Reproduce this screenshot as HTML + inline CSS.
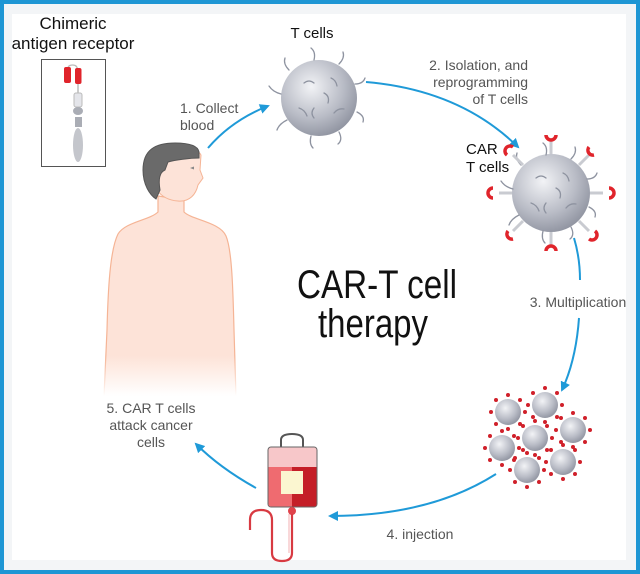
<!DOCTYPE html>
<html><head><meta charset="utf-8"><style>
html,body{margin:0;padding:0;background:#fff}
svg{display:block}
text{font-family:"Liberation Sans Narrow","Liberation Sans",sans-serif}
</style></head><body>
<svg width="640" height="574" viewBox="0 0 640 574" xmlns="http://www.w3.org/2000/svg">
<defs>
<radialGradient id="sph" cx="0.4" cy="0.35" r="0.7">
<stop offset="0" stop-color="#f2f3f6"/><stop offset="0.6" stop-color="#b9bcc6"/><stop offset="1" stop-color="#8d919e"/>
</radialGradient>
<linearGradient id="fade" x1="0" y1="0" x2="0" y2="1">
<stop offset="0.8" stop-color="#fde3d8"/><stop offset="1" stop-color="#fde3d8" stop-opacity="0"/>
</linearGradient>
<linearGradient id="fadeS" x1="0" y1="0" x2="0" y2="1">
<stop offset="0.8" stop-color="#f5b495"/><stop offset="1" stop-color="#f5b495" stop-opacity="0"/>
</linearGradient>
<marker id="ah" viewBox="0 0 10 10" refX="8" refY="5" markerWidth="5" markerHeight="5" orient="auto">
<path d="M0,0 L10,5 L0,10 z" fill="#1f9ad8"/></marker>
<g id="spikes" stroke="#8e93a0" stroke-width="1.3" fill="none" stroke-linecap="round">
<path d="M-30,-28 q-6,-6 -4,-12"/><path d="M-5,-38 q2,-8 -3,-12"/><path d="M20,-34 q6,-6 4,-12"/>
<path d="M36,-14 q8,0 10,-6"/><path d="M38,14 q8,4 6,10"/><path d="M20,34 q4,8 -1,12"/>
<path d="M-8,38 q-2,8 2,12"/><path d="M-32,22 q-8,4 -10,10"/><path d="M-38,-4 q-8,-2 -12,-8"/>
<path d="M-15,-15 q5,-4 10,0"/><path d="M5,-5 q6,3 4,10"/><path d="M-20,10 q6,2 8,8"/>
<path d="M12,-20 q5,2 6,8"/><path d="M15,15 q4,-5 10,-4"/><path d="M-5,20 q-4,-5 0,-10"/>
</g>
<g id="mini">
<circle r="13" fill="url(#sph)"/>
<g fill="#d0202a"><circle cx="0" cy="-17" r="2"/><circle cx="12" cy="-12" r="2"/><circle cx="17" cy="0" r="2"/><circle cx="12" cy="12" r="2"/><circle cx="0" cy="17" r="2"/><circle cx="-12" cy="12" r="2"/><circle cx="-17" cy="0" r="2"/><circle cx="-12" cy="-12" r="2"/></g>
</g>
</defs>
<rect x="0" y="0" width="640" height="574" fill="#1e96d4"/>
<rect x="4" y="4" width="632" height="566" fill="#f3f5f7"/>
<rect x="12" y="14" width="614" height="546" fill="#fff"/>

<!-- CAR box -->
<text x="73" y="29" font-size="17" text-anchor="middle" fill="#111">Chimeric</text>
<text x="73" y="49" font-size="17" text-anchor="middle" fill="#111">antigen receptor</text>
<rect x="41.5" y="59.5" width="64" height="107" fill="#fff" stroke="#555" stroke-width="1"/>
<path d="M67.5,70 q0,-5 5,-5 q5,0 5,5" fill="none" stroke="#bbb" stroke-width="1.2"/>
<path d="M78,83 L78,93" stroke="#bbb" stroke-width="1.5"/>
<rect x="64" y="67" width="7" height="16" rx="2" fill="#e0242b"/>
<rect x="75" y="68" width="6.5" height="16" rx="2" fill="#e0242b"/>
<rect x="74" y="93" width="8" height="14" rx="2" fill="#e4e5ea" stroke="#bbb"/>
<ellipse cx="78" cy="111" rx="5" ry="4" fill="#aaadb5"/>
<rect x="75" y="117" width="7" height="10" fill="#aaadb5"/>
<ellipse cx="78" cy="145" rx="5" ry="17" fill="#c4c6cc"/>

<!-- person -->
<path d="M158,196 L158,212 C150,220 125,222 118,234 C110,250 108,290 107,330 L104,396 L236,396 L234,330 C233,290 232,250 226,236 C220,222 192,220 184,212 L184,200 Z" fill="url(#fade)" stroke="url(#fadeS)" stroke-width="1.2"/>
<path d="M150,160 C148,185 160,200 178,201 C190,202 196,194 198,185 L203,178 L200,170 L201,155 C198,146 160,146 150,160 Z" fill="#fde3d8" stroke="#f5b495" stroke-width="1"/>
<path d="M199,152 C198,146 190,143 175,143 C155,143 143,150 143,170 C143,185 150,195 156,199 L160,190 C158,178 160,172 165,170 L168,162 C175,160 190,158 199,158 Z" fill="#6a6a6a" stroke="#555" stroke-width="1"/>
<path d="M190,168 l4,-1.5 l0,3 z" fill="#888"/>

<!-- arrows -->
<g stroke="#1f9ad8" stroke-width="2" fill="none" marker-end="url(#ah)">
<path d="M208,148 Q232,120 268,106"/>
<path d="M366,82 Q460,90 518,147"/>
<path d="M579,318 Q576,360 562,390"/>
<path d="M496,474 Q430,516 330,516"/>
<path d="M256,488 Q220,468 196,444"/>
</g>
<path d="M574,238 Q580,258 580,280" stroke="#1f9ad8" stroke-width="2" fill="none"/>

<!-- labels -->
<g font-size="14" fill="#555">
<text x="180" y="113">1. Collect</text>
<text x="180" y="130">blood</text>
<text x="528" y="70" text-anchor="end">2. Isolation, and</text>
<text x="528" y="87" text-anchor="end">reprogramming</text>
<text x="528" y="104" text-anchor="end">of T cells</text>
<text x="578" y="307" text-anchor="middle">3. Multiplication</text>
<text x="420" y="539" text-anchor="middle">4. injection</text>
<text x="151" y="413" text-anchor="middle">5. CAR T cells</text>
<text x="151" y="430" text-anchor="middle">attack cancer</text>
<text x="151" y="447" text-anchor="middle">cells</text>
</g>
<text x="312" y="38" font-size="15" text-anchor="middle" fill="#111">T cells</text>
<text x="466" y="154" font-size="15" fill="#111">CAR</text>
<text x="466" y="172" font-size="15" fill="#111">T cells</text>
<text x="377" y="298" font-size="40" text-anchor="middle" fill="#111" textLength="160" lengthAdjust="spacingAndGlyphs">CAR-T cell</text>
<text x="373" y="337" font-size="40" text-anchor="middle" fill="#111" textLength="110" lengthAdjust="spacingAndGlyphs">therapy</text>

<!-- T cell -->
<g transform="translate(319,98)"><circle r="38" fill="url(#sph)"/><use href="#spikes"/></g>

<!-- CAR T cell -->
<g transform="translate(551,193)">
<circle r="39" fill="url(#sph)"/><use href="#spikes"/>
<g stroke="#c9cbd1" stroke-width="3">
<line x1="0" y1="-39" x2="0" y2="-52"/><line x1="28" y1="-28" x2="38" y2="-38"/><line x1="39" y1="0" x2="52" y2="0"/><line x1="28" y1="28" x2="38" y2="38"/>
<line x1="0" y1="39" x2="0" y2="52"/><line x1="-28" y1="28" x2="-38" y2="38"/><line x1="-39" y1="0" x2="-52" y2="0"/><line x1="-28" y1="-28" x2="-38" y2="-38"/>
</g>
<g fill="none" stroke="#e0242b" stroke-width="3.5">
<path d="M-5,-58 a5,5 0 0 0 10,0"/><path d="M38,-46 a5,5 0 0 0 5,8"/><path d="M58,-5 a5,5 0 0 1 0,10"/><path d="M44,38 a5,5 0 0 1 -6,8"/>
<path d="M-5,58 a5,5 0 0 1 10,0"/><path d="M-38,46 a5,5 0 0 1 -5,-8"/><path d="M-58,-5 a5,5 0 0 0 0,10"/><path d="M-44,-38 a5,5 0 0 1 6,-8"/>
</g>
</g>

<!-- cluster -->
<use href="#mini" x="508" y="412"/><use href="#mini" x="545" y="405"/><use href="#mini" x="573" y="430"/>
<use href="#mini" x="535" y="438"/><use href="#mini" x="502" y="448"/><use href="#mini" x="563" y="462"/><use href="#mini" x="527" y="470"/>

<!-- bag -->
<path d="M281,448 L281,440 Q281,434 292,434 Q303,434 303,440 L303,448" fill="none" stroke="#555" stroke-width="2"/>
<rect x="268" y="447" width="49" height="60" rx="3" fill="#f7c7c9" stroke="#666" stroke-width="1"/>
<path d="M268.5,467 H316.5 V504 Q316.5,506.5 314,506.5 H271 Q268.5,506.5 268.5,504 Z" fill="#ef6b70"/>
<path d="M292,467 H316.5 V504 Q316.5,506.5 314,506.5 H292 Z" fill="#c41e27"/>
<rect x="281" y="471" width="22" height="23" fill="#fbf6d0"/>
<circle cx="292" cy="511" r="4" fill="#e0434b"/>
<path d="M292,514 L292,553 Q292,561 282,561 Q272,561 272,553 L272,520 Q272,510 261,510 Q250,510 250,520 L250,530" fill="none" stroke="#d83a42" stroke-width="2.2"/>
<path d="M289,514 L289,553" stroke="#f3b0b3" stroke-width="1"/>
</svg>
</body></html>
